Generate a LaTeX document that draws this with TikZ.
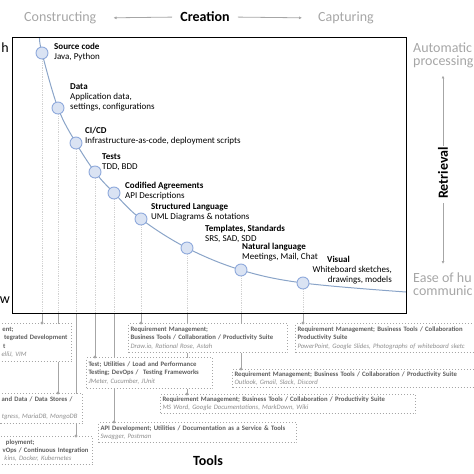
\documentclass[tikz,border=0pt]{standalone}
\usepackage{fontspec}
\setmainfont{Carlito}
\usetikzlibrary{arrows.meta, positioning, backgrounds}
\definecolor{curveblue}{HTML}{8AA4C8}
\definecolor{dotfill}{HTML}{DAE3F3}
\definecolor{dotedge}{HTML}{8FAADC}
\definecolor{softgray}{HTML}{A6A6A6}
\definecolor{guidegray}{HTML}{D2D2D2}
\definecolor{tooltext}{HTML}{5E5E5E}
\definecolor{toolgray}{HTML}{8E8E8E}
\newcommand*{\toolex}[1]{{\mdseries\itshape\color{toolgray}#1}}
\newcommand*{\gap}[1]{\hspace*{#1}\mbox{}}
\tikzstyle{plotframe} = [draw, line width=1.2pt, inner sep=0pt, anchor=north west]
\tikzstyle{stage} = [circle, draw=dotedge, fill=dotfill, line width=0.9pt, minimum size=12pt, inner sep=0pt]
\tikzstyle{caption} = [anchor=north west, align=left, inner sep=0pt, font=\fontsize{9}{10}\selectfont]
\tikzstyle{toolbox} = [draw=softgray, dotted, line width=1pt, fill=white, align=left, inner sep=2pt, anchor=north west, text=tooltext, font=\fontsize{6.7}{8.4}\selectfont\bfseries]
\tikzstyle{guide} = [guidegray, densely dotted, line width=0.8pt]
\tikzstyle{link} = [softgray, line width=0.9pt]
\tikzstyle{flow} = [-{Latex[length=3pt, width=3pt]}, softgray, line width=0.8pt]
\tikzstyle{side} = [inner sep=0pt, text=softgray, font=\fontsize{14}{13}\selectfont]
\tikzstyle{heading} = [inner sep=0pt, font=\fontsize{14}{16}\selectfont\bfseries]

\begin{document}
\begin{tikzpicture}[x=1pt, y=-1pt]
    \useasboundingbox (0,0) rectangle (474,474);
    \clip (0,0) rectangle (474,474);

    % Frame.
    \node (frame) [plotframe, minimum width=394pt, minimum height=276pt] at (12,37) {};
    \node (hitext) [anchor=east, inner sep=0pt, font=\fontsize{14}{16}\selectfont] at (9,48) {h};
    \node (lowtext) [anchor=east, inner sep=0pt, font=\fontsize{14}{16}\selectfont] at (10,300) {w};

    % Stages.
    \foreach\i/\x/\y in {1/42/53, 2/58/108, 3/76/143, 4/95/172, 5/114/193,
                         6/141/219, 7/187/248, 8/241/270, 9/303/283} {
        \node (stage\i) [stage] at (\x,\y) {};
    }
    \coordinate (curvetop) at (39.5,37);
    \coordinate (curveend) at (406,292);

    \node (source) [caption] at (54,43) {\textbf{Source code}\\Java, Python};
    \node (data) [caption] at (70,83) {\textbf{Data}\\Application data,\\settings, configurations};
    \node (cicd) [caption] at (85,127) {\textbf{CI/CD}\\Infrastructure-as-code, deployment scripts};
    \node (tests) [caption] at (102,153) {\textbf{Tests}\\TDD, BDD};
    \node (agreements) [caption] at (125,182) {\textbf{Codified Agreements}\\API Descriptions};
    \node (structured) [caption] at (151,203) {\textbf{Structured Language}\\UML Diagrams \& notations};
    \node (templates) [caption] at (205,225) {\textbf{Templates, Standards}\\SRS, SAD, SDD};
    \node (natural) [caption] at (242,243) {\textbf{Natural language}\\Meetings, Mail, Chat};
    \node (visual) [caption, anchor=north east, align=right] at (392,256)
        {\textbf{Visual}\gap{42pt}\\Whiteboard sketches,\\drawings, models};

    % Creation and retrieval.
    \node (creation) [heading] at (205,17) {Creation};
    \node (constructing) [side, anchor=west] at (24,18) {Constructing};
    \node (capturing) [side, anchor=west] at (318,18) {Capturing};
    \draw [flow, shorten <=8pt, shorten >=17pt] (creation.west) -- (constructing.east);
    \draw [flow, shorten <=8pt, shorten >=16pt] (creation.east) -- (capturing.west);

    \node (retrieval) [heading, rotate=90] at (443,173) {Retrieval};
    \node (automatic) [side, anchor=north west, align=left] at (413,43) {Automatic\\processing};
    \node (ease) [side, anchor=north west, align=left] at (413,273) {Ease of hu\\communic};
    \draw [flow, shorten <=1pt, shorten >=7pt] (retrieval.east) -- (retrieval.east |- automatic.south);
    \draw [flow, shorten <=4pt, shorten >=9pt] (retrieval.west) -- (retrieval.west |- ease.north);

    % Tools.
    \node (ide) [toolbox, anchor=north east, align=right, text width=120pt, minimum height=38pt] at (72,323)
        {ent;\gap{56pt}\\tegrated Development\gap{2pt}\\t\gap{64pt}\\\toolex{elliJ, VIM}\gap{43pt}};
    \node (store) [toolbox, anchor=north east, align=right, text width=120pt, minimum height=30pt] at (83,393)
        {and Data / Data Stores /\gap{8pt}\\\mbox{}\\\toolex{tgress, MariaDB, MongoDB}\gap{3pt}};
    \node (deploy) [toolbox, anchor=north east, align=right, text width=120pt, minimum height=28pt] at (93,436)
        {ployment;\gap{56pt}\\vOps / Continuous Integration\gap{2pt}\\\toolex{kins, Docker, Kubernetes}\gap{19pt}};
    \node (testing) [toolbox, text width=122pt, minimum height=31pt] at (86,357)
        {Test; Utilities / Load and Performance\\Testing; DevOps /\ \ Testing Frameworks\\\toolex{JMeter, Cucumber, JUnit}};
    \node (apidoc) [toolbox, text width=194pt, minimum height=20pt] at (98,422)
        {API Development; Utilities / Documentation as a Service \& Tools\\\toolex{Swagger, Postman}};
    \node (modeling) [toolbox, text width=155pt, minimum height=29pt] at (128,323)
        {Requirement Management;\\Business Tools / Collaboration / Productivity Suite\\\toolex{Draw.io, Rational Rose, Astah}};
    \node (docs) [toolbox, text width=251pt, minimum height=19pt] at (160,394)
        {Requirement Management; Business Tools / Collaboration / Productivity Suite\\\toolex{MS Word, Google Documentations, MarkDown, Wiki}};
    \node (chat) [toolbox, text width=256pt, minimum height=18pt] at (232,369)
        {Requirement Management; Business Tools / Collaboration / Productivity Suite\\\toolex{Outlook, Gmail, Slack, Discord}};
    \node (slides) [toolbox, text width=200pt, minimum height=29pt] at (295,323)
        {Requirement Management; Business Tools / Collaboration\\Productivity Suite\\\toolex{PowerPoint, Google Slides, Photographs of whiteboard sketc}};
    \node (tools) [heading] at (208,461) {Tools};

    % Curve and links.
    \begin{pgfonlayer}{background}
        \draw [curveblue, line width=1pt] plot [smooth, tension=0.6] coordinates
            {(curvetop) (stage1) (stage2) (stage3) (stage4) (stage5) (stage6) (stage7) (stage8) (stage9) (curveend)};
        \foreach\i/\t in {1/ide, 2/store, 3/deploy, 4/testing, 5/apidoc, 6/modeling, 7/docs, 8/chat, 9/slides} {
            \draw [guide] (stage\i) -- (stage\i |- frame.south);
            \draw [link] (stage\i |- frame.south) -- (stage\i |- \t.north);
        }
    \end{pgfonlayer}
    \foreach\i/\t in {1/ide, 2/store, 3/deploy, 4/testing, 5/apidoc, 6/modeling, 7/docs, 8/chat, 9/slides} {
        \fill [softgray] (stage\i |- \t.north) circle (1.6pt);
    }
\end{tikzpicture}
\end{document}
